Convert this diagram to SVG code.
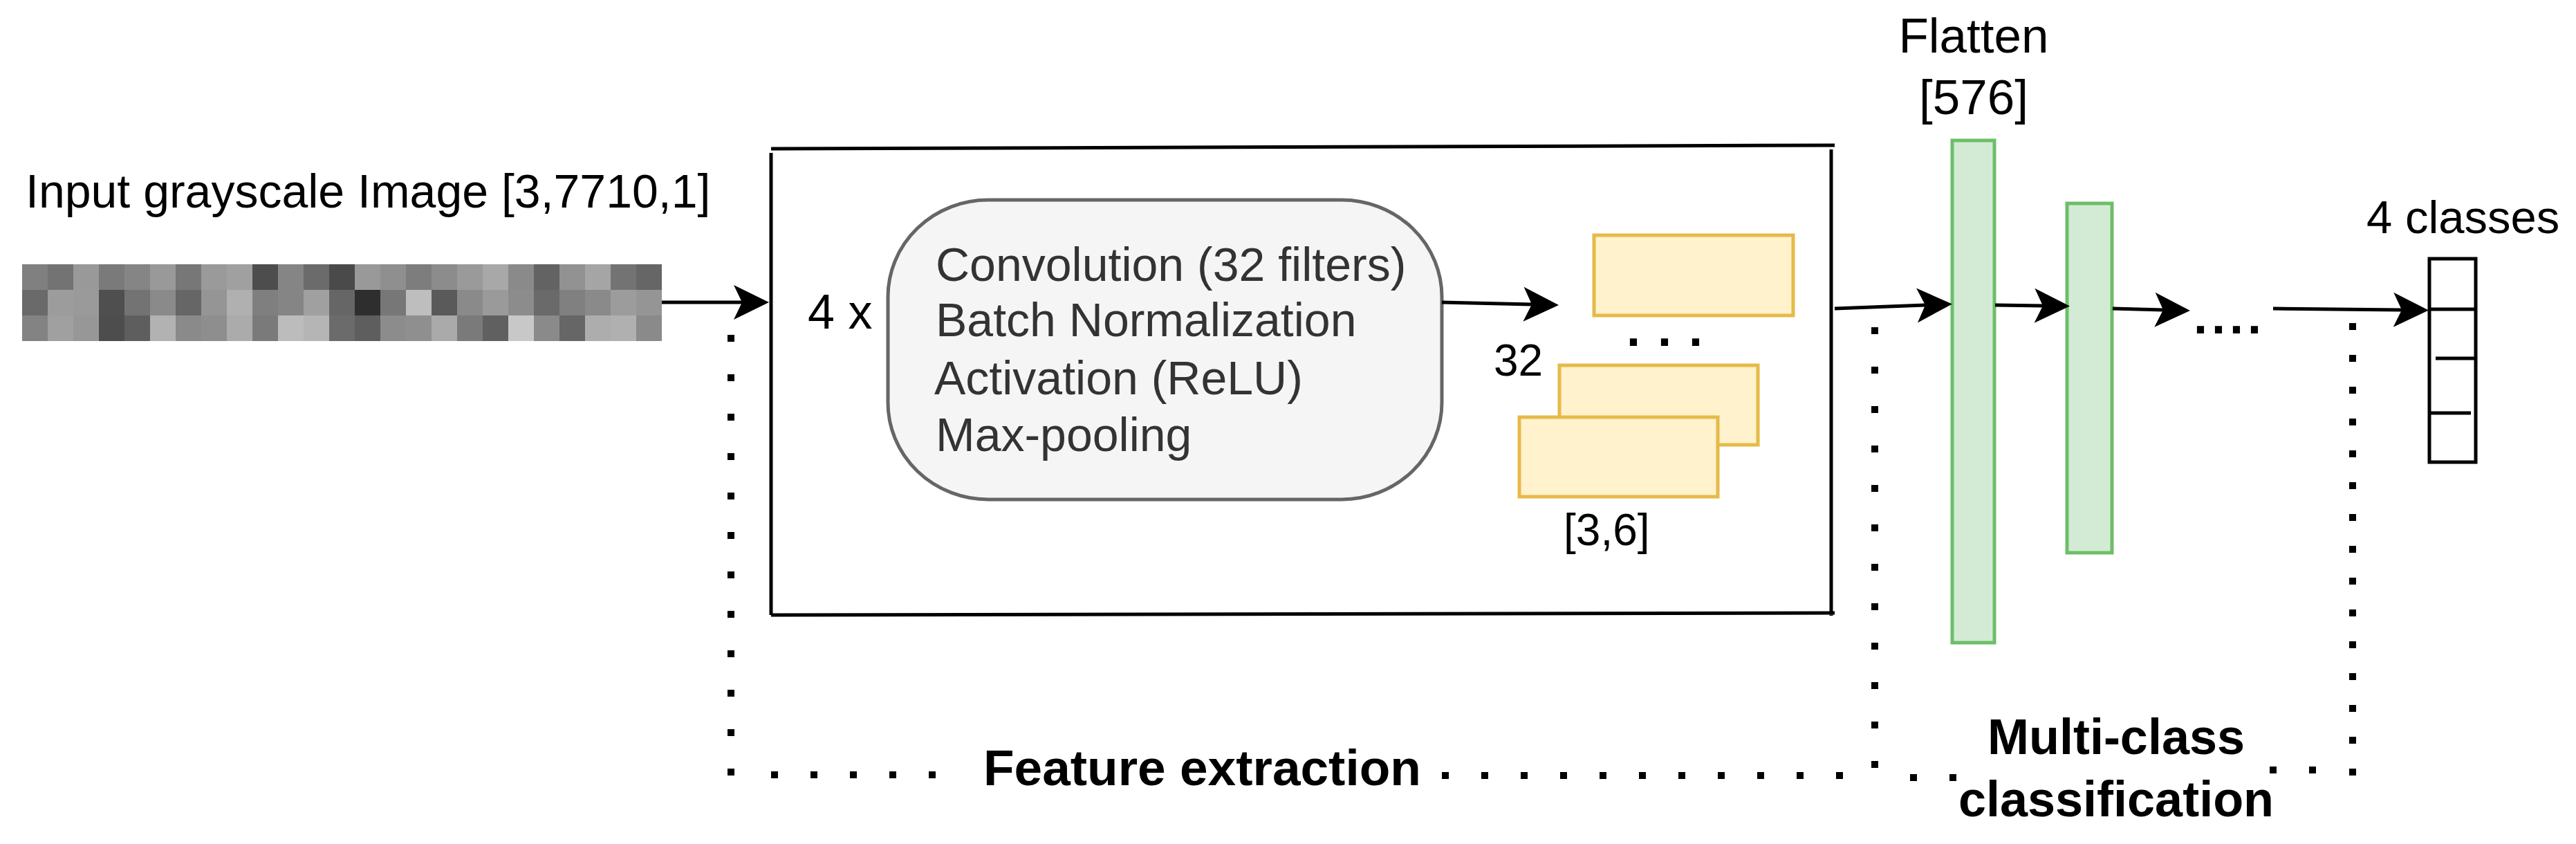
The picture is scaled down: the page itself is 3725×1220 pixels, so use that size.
<svg xmlns="http://www.w3.org/2000/svg" width="3725" height="1220" viewBox="0 0 3725 1220">
<style>
text{font-family:"Liberation Sans",Arial,Helvetica,sans-serif;fill:#000}
.lbl{font-size:70px}
.inner{font-size:68px;fill:#333333}
.bold{font-size:72px;font-weight:bold}
.edge{fill:none;stroke:#000;stroke-width:5}
.dot57{fill:none;stroke:#000;stroke-width:10;stroke-dasharray:10 47}
.dot46{fill:none;stroke:#000;stroke-width:10;stroke-dasharray:10 36}
.fmap{fill:#fff2cc;stroke:#e6ba48;stroke-width:5}
.dense{fill:#d3ebd5;stroke:#6cbf68;stroke-width:5}
.frame{fill:none;stroke:#000;stroke-width:5}
</style>
<defs>
<marker id="arr" viewBox="-52 -26 54 52" refX="-39" refY="0" markerWidth="54" markerHeight="52" markerUnits="userSpaceOnUse" orient="auto">
<path d="M0,0 L-51,-25 L-39,0 L-51,25 Z" fill="#000"/>
</marker>
</defs>
<rect width="3725" height="1220" fill="#fff"/>

<g id="input-image">
<text class="lbl" x="37" y="300" font-size="68" style="font-size:68px">Input grayscale Image [3,7710,1]</text>
<g id="strip">
<rect x="32" y="382" width="37" height="37" fill="#808080"/><rect x="69" y="382" width="37" height="37" fill="#737373"/><rect x="106" y="382" width="37" height="37" fill="#999999"/><rect x="143" y="382" width="37" height="37" fill="#7a7a7a"/><rect x="180" y="382" width="37" height="37" fill="#858585"/><rect x="217" y="382" width="37" height="37" fill="#999999"/><rect x="254" y="382" width="37" height="37" fill="#777777"/><rect x="291" y="382" width="37" height="37" fill="#9a9a9a"/><rect x="328" y="382" width="37" height="37" fill="#a0a0a0"/><rect x="365" y="382" width="37" height="37" fill="#4d4d4d"/><rect x="402" y="382" width="37" height="37" fill="#858585"/><rect x="439" y="382" width="37" height="37" fill="#6b6b6b"/><rect x="476" y="382" width="37" height="37" fill="#4a4a4a"/><rect x="513" y="382" width="37" height="37" fill="#999999"/><rect x="550" y="382" width="37" height="37" fill="#8f8f8f"/><rect x="587" y="382" width="37" height="37" fill="#7d7d7d"/><rect x="624" y="382" width="37" height="37" fill="#8c8c8c"/><rect x="661" y="382" width="37" height="37" fill="#9a9a9a"/><rect x="698" y="382" width="37" height="37" fill="#a8a8a8"/><rect x="735" y="382" width="37" height="37" fill="#8a8a8a"/><rect x="772" y="382" width="37" height="37" fill="#636363"/><rect x="809" y="382" width="37" height="37" fill="#929292"/><rect x="846" y="382" width="37" height="37" fill="#a5a5a5"/><rect x="883" y="382" width="37" height="37" fill="#737373"/><rect x="920" y="382" width="37" height="37" fill="#666666"/>
<rect x="32" y="419" width="37" height="37" fill="#6a6a6a"/><rect x="69" y="419" width="37" height="37" fill="#9c9c9c"/><rect x="106" y="419" width="37" height="37" fill="#9a9a9a"/><rect x="143" y="419" width="37" height="37" fill="#4f4f4f"/><rect x="180" y="419" width="37" height="37" fill="#737373"/><rect x="217" y="419" width="37" height="37" fill="#8a8a8a"/><rect x="254" y="419" width="37" height="37" fill="#666666"/><rect x="291" y="419" width="37" height="37" fill="#959595"/><rect x="328" y="419" width="37" height="37" fill="#b0b0b0"/><rect x="365" y="419" width="37" height="37" fill="#7f7f7f"/><rect x="402" y="419" width="37" height="37" fill="#858585"/><rect x="439" y="419" width="37" height="37" fill="#a0a0a0"/><rect x="476" y="419" width="37" height="37" fill="#666666"/><rect x="513" y="419" width="37" height="37" fill="#2e2e2e"/><rect x="550" y="419" width="37" height="37" fill="#777777"/><rect x="587" y="419" width="37" height="37" fill="#bebebe"/><rect x="624" y="419" width="37" height="37" fill="#5a5a5a"/><rect x="661" y="419" width="37" height="37" fill="#8a8a8a"/><rect x="698" y="419" width="37" height="37" fill="#9a9a9a"/><rect x="735" y="419" width="37" height="37" fill="#8c8c8c"/><rect x="772" y="419" width="37" height="37" fill="#6a6a6a"/><rect x="809" y="419" width="37" height="37" fill="#808080"/><rect x="846" y="419" width="37" height="37" fill="#8a8a8a"/><rect x="883" y="419" width="37" height="37" fill="#9c9c9c"/><rect x="920" y="419" width="37" height="37" fill="#959595"/>
<rect x="32" y="456" width="37" height="37" fill="#838383"/><rect x="69" y="456" width="37" height="37" fill="#a0a0a0"/><rect x="106" y="456" width="37" height="37" fill="#979797"/><rect x="143" y="456" width="37" height="37" fill="#4d4d4d"/><rect x="180" y="456" width="37" height="37" fill="#5e5e5e"/><rect x="217" y="456" width="37" height="37" fill="#b2b2b2"/><rect x="254" y="456" width="37" height="37" fill="#8a8a8a"/><rect x="291" y="456" width="37" height="37" fill="#8e8e8e"/><rect x="328" y="456" width="37" height="37" fill="#ababab"/><rect x="365" y="456" width="37" height="37" fill="#7a7a7a"/><rect x="402" y="456" width="37" height="37" fill="#bcbcbc"/><rect x="439" y="456" width="37" height="37" fill="#b5b5b5"/><rect x="476" y="456" width="37" height="37" fill="#6b6b6b"/><rect x="513" y="456" width="37" height="37" fill="#5e5e5e"/><rect x="550" y="456" width="37" height="37" fill="#8c8c8c"/><rect x="587" y="456" width="37" height="37" fill="#8f8f8f"/><rect x="624" y="456" width="37" height="37" fill="#aaaaaa"/><rect x="661" y="456" width="37" height="37" fill="#7a7a7a"/><rect x="698" y="456" width="37" height="37" fill="#606060"/><rect x="735" y="456" width="37" height="37" fill="#c8c8c8"/><rect x="772" y="456" width="37" height="37" fill="#8a8a8a"/><rect x="809" y="456" width="37" height="37" fill="#666666"/><rect x="846" y="456" width="37" height="37" fill="#adadad"/><rect x="883" y="456" width="37" height="37" fill="#b0b0b0"/><rect x="920" y="456" width="37" height="37" fill="#8a8a8a"/>
</g>
</g>

<g id="feature-block">
<path class="frame" d="M1115,215 L2653,210 M2648,216 L2648,890 M1115,889 L2653,886 M1115,221 L1115,889"/>
<text class="lbl" x="1168" y="475">4 x</text>
</g>

<g id="conv-block">
<rect x="1284" y="289" width="801" height="433" rx="145" ry="140" fill="#f5f5f5" stroke="#666666" stroke-width="5"/>
<text class="inner" x="1353" y="406">Convolution (32 filters)</text>
<text class="inner" x="1353" y="486">Batch Normalization</text>
<text class="inner" x="1351" y="570">Activation (ReLU)</text>
<text class="inner" x="1353" y="652">Max-pooling</text>
</g>

<g id="feature-maps">
<rect class="fmap" x="2305" y="340" width="288" height="116"/>
<text class="bold" x="2352" y="500" style="letter-spacing:25px">...</text>
<rect class="fmap" x="2255" y="528" width="287" height="115"/>
<rect class="fmap" x="2197" y="603" width="287" height="115"/>
<text class="lbl" x="2160" y="543" style="font-size:64px">32</text>
<text class="lbl" x="2261" y="788" style="font-size:64px">[3,6]</text>
</g>

<g id="flatten">
<text class="lbl" x="2854" y="76" text-anchor="middle" style="font-size:71px">Flatten</text>
<text class="lbl" x="2854" y="165" text-anchor="middle" style="font-size:71px">[576]</text>
<rect class="dense" x="2823" y="203" width="61" height="726"/>
</g>

<g id="dense">
<rect class="dense" x="2989" y="294" width="65" height="505"/>
</g>

<g id="ellipsis">
<text class="bold" x="3172" y="482" style="letter-spacing:6px">....</text>
</g>

<g id="output">
<text class="lbl" x="3422" y="337" style="font-size:67px">4 classes</text>
<rect x="3513" y="374" width="67" height="294" fill="#fff" stroke="#000" stroke-width="5"/>
<path class="edge" d="M3513,447 L3580,447 M3522,518 L3578,518 M3513,597 L3573,597"/>
</g>

<g id="connectors">
<path class="edge" d="M957,437 L1073,437" marker-end="url(#arr)"/>
<path class="edge" d="M2085,437 L2215,440" marker-end="url(#arr)"/>
<path class="edge" d="M2653,446 L2784,441" marker-end="url(#arr)"/>
<path class="edge" d="M2885,441 L2954,442" marker-end="url(#arr)"/>
<path class="edge" d="M3055,446 L3128,448" marker-end="url(#arr)"/>
<path class="edge" d="M3287,446 L3473,448" marker-end="url(#arr)"/>
</g>

<g id="groupings">
<path class="dot57" d="M1057,484 L1057,1126"/>
<path class="dot57" d="M1115,1120 L1365,1120"/>
<path class="dot57" d="M2085,1121 L2670,1121"/>
<path class="dot57" d="M2711,473 L2711,1126"/>
<path class="dot57" d="M2762,1124 L2840,1124"/>
<path class="dot57" d="M3282,1113 L3360,1113"/>
<path class="dot46" d="M3402,467 L3402,1126"/>
<text class="bold" x="1422" y="1135" style="font-size:73px">Feature extraction</text>
<text class="bold" x="3060" y="1090" text-anchor="middle">Multi-class</text>
<text class="bold" x="3060" y="1180" text-anchor="middle">classification</text>
</g>
</svg>
